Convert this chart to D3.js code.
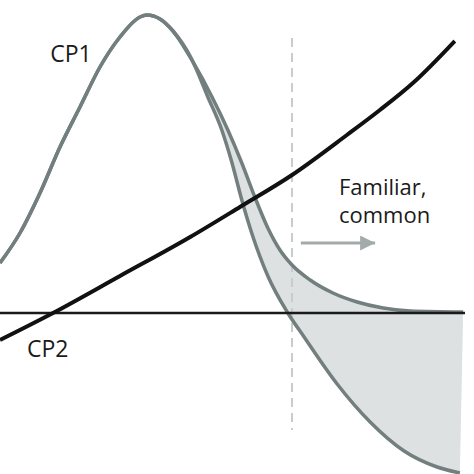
<!DOCTYPE html>
<html>
<head>
<meta charset="utf-8">
<script src="https://cdn.jsdelivr.net/npm/d3@7"></script>
<style>
  html, body { margin: 0; padding: 0; background: #ffffff; }
  svg { display: block; }
  text { font-family: "Open Sans", "Noto Sans", sans-serif; fill: #1a1a1a; }
</style>
</head>
<body>
<svg id="chart" width="474" height="474"></svg>
<script>
"use strict";

// CP1 rising part, shared by both branches (x: familiarity, y: value)
var cp1Rise = [[0, 0.50], [0.43, 0.80], [0.86, 1.20], [1.29, 1.66], [1.72, 2.06], [2.15, 2.46],
  [2.58, 2.76], [3.01, 2.96], [3.16, 2.98], [3.44, 2.94], [3.72, 2.82]];

// CP1 upper tail, levels off on the baseline
var cp1Upper = [[4.15, 2.51], [4.56, 2.16], [4.90, 1.83], [5.20, 1.50], [5.48, 1.16], [5.76, 0.85],
  [6.02, 0.63], [6.28, 0.48], [6.67, 0.33], [7.16, 0.20], [7.68, 0.11], [8.24, 0.05], [8.82, 0.02], [9.96, 0.01]];

// CP1 lower tail, keeps falling below the baseline
var cp1Lower = [[4.11, 2.55], [4.47, 2.16], [4.77, 1.83], [4.99, 1.50], [5.20, 1.13], [5.42, 0.79],
  [5.76, 0.37], [6.19, 0.00], [6.54, -0.24], [7.25, -0.71], [7.96, -1.09], [8.69, -1.38], [9.40, -1.54], [9.89, -1.60]];

// CP2 curve
var cp2 = [[0, -0.27], [1.14, 0], [2.58, 0.37], [4.09, 0.76], [5.16, 1.06], [6.28, 1.38],
  [7.46, 1.78], [8.17, 2.03], [8.88, 2.30], [9.78, 2.72]];

// threshold and arrow
var thresholdX = 6.28;
var thresholdY = [-1.17, 2.75];
var arrowX = [6.47, 8.11];
var arrowY = 0.70;

// labels
var labels = [
  {text: "CP1", x: 1.08, y: 2.51, size: 23},
  {text: "CP2", x: 0.58, y: -0.44, size: 23},
  {text: "Familiar,", x: 7.29, y: 1.18, size: 22},
  {text: "common", x: 7.29, y: 0.90, size: 22}
];

var width = 474, height = 474;
var svg = d3.select("#chart");

var x = d3.scaleLinear().domain([0, 10]).range([0, 465]);
var y = d3.scaleLinear().domain([-1.61, 3.13]).range([height, 0]);

var line = d3.line()
  .x(function(d) { return x(d[0]); })
  .y(function(d) { return y(d[1]); })
  .curve(d3.curveMonotoneX);

var split = cp1Rise[cp1Rise.length - 1];
var upperAll = cp1Rise.concat(cp1Upper);
var lowerAll = cp1Rise.concat(cp1Lower);

// shaded gap between the two tails
var fillPath = line([split].concat(cp1Upper)) + "L" +
  line([split].concat(cp1Lower).reverse()).slice(1) + "Z";

svg.append("path")
  .attr("d", fillPath)
  .attr("fill", "#dde1e1")
  .attr("stroke", "none");

// dashed threshold
svg.append("line")
  .attr("x1", x(thresholdX)).attr("x2", x(thresholdX))
  .attr("y1", y(thresholdY[1])).attr("y2", y(thresholdY[0]))
  .attr("stroke", "#c9cccc")
  .attr("stroke-width", 2)
  .attr("stroke-dasharray", "9,6");

// CP1 branches
svg.selectAll(".cp1")
  .data([upperAll, lowerAll])
  .enter().append("path")
  .attr("class", "cp1")
  .attr("d", line)
  .attr("fill", "none")
  .attr("stroke", "#737e7e")
  .attr("stroke-width", 3.5);

// baseline
svg.append("line")
  .attr("x1", x(0)).attr("x2", x(10))
  .attr("y1", y(0)).attr("y2", y(0))
  .attr("stroke", "#1a1a1a")
  .attr("stroke-width", 2.5);

// CP2
svg.append("path")
  .attr("d", line(cp2))
  .attr("fill", "none")
  .attr("stroke", "#111111")
  .attr("stroke-width", 4);

// arrow towards familiar
var defs = svg.append("defs");
defs.append("marker")
  .attr("id", "head")
  .attr("viewBox", "0 0 10 10")
  .attr("refX", 10).attr("refY", 5)
  .attr("markerWidth", 9).attr("markerHeight", 5)
  .attr("markerUnits", "strokeWidth")
  .attr("orient", "auto")
  .append("path")
  .attr("d", "M0,0L10,5L0,10Z")
  .attr("fill", "#a3aaaa");

svg.append("line")
  .attr("x1", x(arrowX[0])).attr("x2", x(arrowX[1]) - 2)
  .attr("y1", y(arrowY)).attr("y2", y(arrowY))
  .attr("stroke", "#a3aaaa")
  .attr("stroke-width", 3)
  .attr("marker-end", "url(#head)");

svg.selectAll(".label")
  .data(labels)
  .enter().append("text")
  .attr("class", "label")
  .attr("x", function(d) { return x(d.x); })
  .attr("y", function(d) { return y(d.y); })
  .attr("font-size", function(d) { return d.size + "px"; })
  .text(function(d) { return d.text; });
</script>
</body>
</html>
